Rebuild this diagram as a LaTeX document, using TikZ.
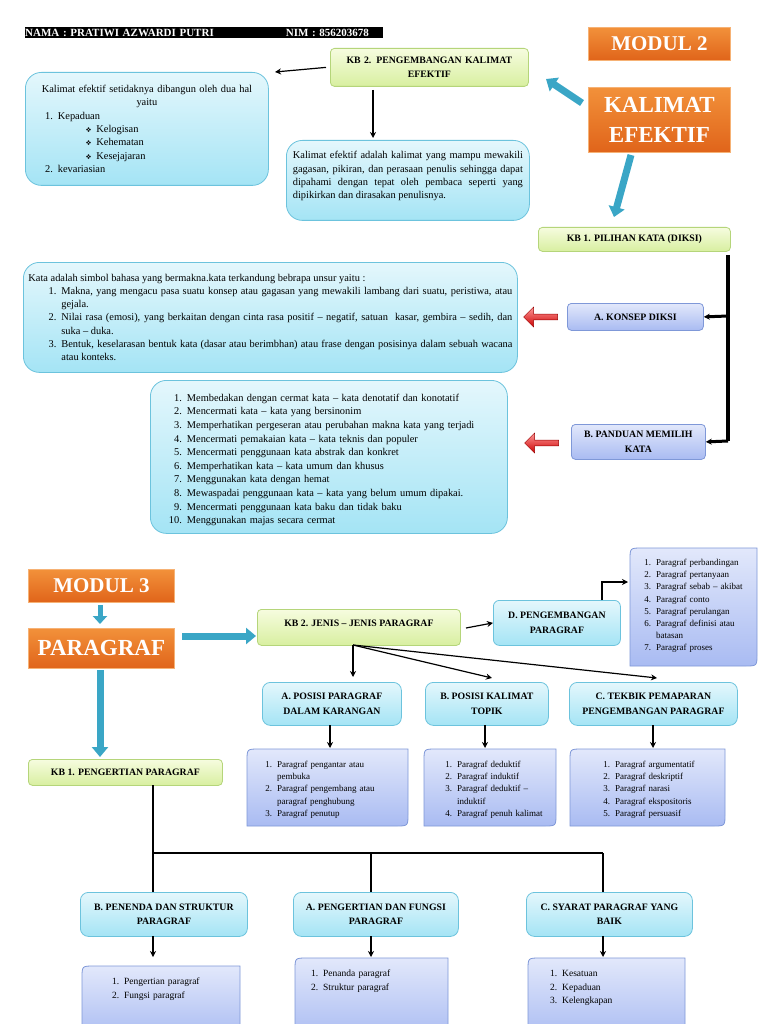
\documentclass[tikz,border=0pt]{standalone}
\usepackage{fontspec}
\setmainfont{Liberation Serif}
\usepackage{enumitem}
\usepackage{pifont}
\usetikzlibrary{shapes.arrows,arrows.meta}
\definecolor{cyT}{HTML}{E4F7FC}\definecolor{cyB}{HTML}{A4E4F5}\definecolor{cyD}{HTML}{6CC3DD}
\definecolor{grT}{HTML}{F6FCDF}\definecolor{grB}{HTML}{D8EFA0}\definecolor{grD}{HTML}{B5D57A}
\definecolor{laT}{HTML}{E2E8FB}\definecolor{laB}{HTML}{A9BBF2}\definecolor{laD}{HTML}{7F98D8}
\definecolor{orT}{HTML}{F2913A}\definecolor{orB}{HTML}{E0641A}\definecolor{blA}{HTML}{3AA6C6}
\newcommand{\fs}{\fontsize{10.4}{13.3}\selectfont\hyphenpenalty=10000\exhyphenpenalty=10000}
\newcommand{\hs}{\fontsize{9.8}{14.5}\selectfont\bfseries}
\newcommand{\ls}{\fontsize{9}{12.2}\selectfont}
\newlist{nl}{enumerate}{1}
\setlist[nl]{label=\arabic*.,leftmargin=18pt,itemsep=0pt,topsep=0pt,parsep=0pt,partopsep=0pt}
\begin{document}
\begin{tikzpicture}[x=1pt,y=-1pt,
 cy/.style={draw=cyD,rounded corners=8,top color=cyT,bottom color=cyB,line width=0.8pt,anchor=north west,align=center,font=\hs,inner sep=3pt},
 cyl/.style={cy,rounded corners=16,font=\fs,align=left},
 gr/.style={draw=grD,rounded corners=4,top color=grT,bottom color=grB,line width=0.8pt,anchor=north west,align=center,font=\hs},
 la/.style={draw=laD,rounded corners=4,top color=laT,bottom color=laB,line width=0.8pt,anchor=north west,align=center,font=\hs},
 orb/.style={draw=orT!70!white,top color=orT,bottom color=orB,anchor=north west,align=center,text=white,font=\bfseries,line width=0.8pt},
 ar/.style={-{Stealth[length=6pt,width=6pt]},line width=1.2pt},
 blue/.style={-{Triangle[length=10pt,width=16pt]},line width=7pt,draw=blA},
 red/.style={single arrow,draw=red!60!black,top color=red!40!white,bottom color=red!80!black,minimum height=34pt,minimum width=20pt,single arrow head extend=3pt,shape border rotate=180,inner sep=1pt},
 lt/.style={anchor=north west,font=\ls,align=left,inner sep=0pt}]
\useasboundingbox (0,0) rectangle (768,1024);
\fill[white] (0,0) rectangle (768,1024);
% header
\node[fill=black,text=white,font=\fontsize{11}{12}\selectfont\bfseries,anchor=north west,minimum width=358pt,minimum height=11pt,inner sep=0pt,align=left,text width=358pt] (hdr) at (25,27) {NAMA : PRATIWI AZWARDI PUTRI\hspace{72pt}NIM : 856203678};
% modul 2
\node[orb,minimum width=142pt,minimum height=33pt,font=\fontsize{21}{22}\selectfont\bfseries] (m2) at (588,27) {MODUL 2};
\node[orb,minimum width=142pt,minimum height=65pt,font=\fontsize{23}{30}\selectfont\bfseries] (ke) at (588,87) {KALIMAT\\EFEKTIF};
\node[gr,minimum width=198pt,minimum height=38pt,text width=190pt] (kb2) at (330,48) {KB 2. PENGEMBANGAN KALIMAT\\EFEKTIF};
\node[cyl,minimum width=243pt,minimum height=113pt,text width=230pt] (c1) at (25,72) {\centering Kalimat efektif setidaknya dibangun oleh dua hal\\ yaitu\par\raggedright
\begin{nl}[leftmargin=26pt]\item Kepaduan\par
\hspace*{28pt}{\scriptsize\ding{118}}\hspace{5pt}Kelogisan\par
\hspace*{28pt}{\scriptsize\ding{118}}\hspace{5pt}Kehematan\par
\hspace*{28pt}{\scriptsize\ding{118}}\hspace{5pt}Kesejajaran
\item kevariasian\end{nl}\vspace{8pt}};
\node[cyl,minimum width=243pt,minimum height=80pt,text width=230pt,align=justify] (c2) at (286,140) {Kalimat efektif adalah kalimat yang mampu mewakili gagasan, pikiran, dan perasaan penulis sehingga dapat dipahami dengan tepat oleh pembaca seperti yang dipikirkan dan dirasakan penulisnya.\vspace{8pt}};
\draw[ar] (kb2.west) ++(-4,0) -- (275,72);
\draw[ar] (373,90) -- (373,138);
\draw[blue] (582,103) -- (546,79);
\draw[blue] (631,155) -- (614,217);
\node[gr,minimum width=192pt,minimum height=24pt] (kb1) at (538,227) {KB 1. PILIHAN KATA (DIKSI)};
\node[la,minimum width=136pt,minimum height=27pt] (ka) at (567,303) {A. KONSEP DIKSI};
\node[la,minimum width=134pt,minimum height=35pt] (kbp) at (571,424) {B. PANDUAN MEMILIH\\KATA};
\draw[line width=3.5pt] (728,255) -- (728,441);
\draw[ar,line width=3pt] (728,316) -- (ka.east);
\draw[ar,line width=3pt] (728,441) -- (kbp.east);
\node[cyl,minimum width=494pt,minimum height=110pt,text width=484pt,align=justify] (c3) at (23,262) {Kata adalah simbol bahasa yang bermakna.kata terkandung bebrapa unsur yaitu :
\begin{nl}[leftmargin=33pt]
\item Makna, yang mengacu pasa suatu konsep atau gagasan yang mewakili lambang dari suatu, peristiwa, atau gejala.
\item Nilai rasa (emosi), yang berkaitan dengan cinta rasa positif -- negatif, satuan\ \ kasar, gembira -- sedih, dan suka~--~duka.
\item Bentuk, keselarasan bentuk kata (dasar atau berimbhan) atau frase dengan posisinya dalam sebuah wacana atau konteks.\end{nl}};
\node[cyl,minimum width=357pt,minimum height=153pt,text width=320pt,inner xsep=16pt] (c4) at (150,380) {\fontsize{10.4}{13.6}\selectfont\begin{nl}[leftmargin=18pt]
\item Membedakan dengan cermat kata -- kata denotatif dan konotatif
\item Mencermati kata -- kata yang bersinonim
\item Memperhatikan pergeseran atau perubahan makna kata yang terjadi
\item Mencermati pemakaian kata -- kata teknis dan populer
\item Mencermati penggunaan kata abstrak dan konkret
\item Memperhatikan kata -- kata umum dan khusus
\item Menggunakan kata dengan hemat
\item Mewaspadai penggunaan kata -- kata yang belum umum dipakai.
\item Mencermati penggunaan kata baku dan tidak baku
\item Menggunakan majas secara cermat\end{nl}};
\node[red] (r1) at (542,317) {};
\node[red] (r2) at (543,443) {};
% modul 3
\node[orb,minimum width=146pt,minimum height=33pt,font=\fontsize{21}{22}\selectfont\bfseries] (m3) at (28,569) {MODUL 3};
\node[orb,minimum width=146pt,minimum height=40pt,font=\fontsize{23}{24}\selectfont\bfseries] (pg) at (28,628) {PARAGRAF};
\draw[blue,line width=5pt,-{Triangle[length=8pt,width=14pt]}] (100,605) -- (100,624);
\draw[blue] (182,636) -- (256,636);
\draw[blue] (100,670) -- (100,757);
\node[gr,minimum width=194pt,minimum height=26pt] (pk1) at (28,759) {KB 1. PENGERTIAN PARAGRAF};
\node[gr,minimum width=203pt,minimum height=36pt] (jp) at (257,609) {\raisebox{8pt}{KB 2. JENIS -- JENIS PARAGRAF}};
\node[cy,minimum width=127pt,minimum height=45pt,rounded corners=6] (dp) at (493,600) {D. PENGEMBANGAN\\PARAGRAF};
\draw[ar] (466,628) -- (dp.west);
\draw[ar] (602,600) -- (602,582) -- (628,582);
\newcommand{\lbox}[4]{\draw[draw=laD,top color=laT,bottom color=laB,line width=0.8pt] (#1,#4) -- (#1,#2+12) .. controls (#1,#2) .. (#1+12,#2) -- (#3,#2) -- (#3,#4-12) .. controls (#3,#4) .. (#3-12,#4) -- cycle;}
\lbox{630}{548}{757}{666}
\node[lt,text width=112pt] (ld) at (640,553) {\begin{nl}[leftmargin=16pt]
\item Paragraf perbandingan \item Paragraf pertanyaan \item Paragraf sebab -- akibat \item Paragraf conto \item Paragraf perulangan \item Paragraf definisi atau batasan \item Paragraf proses\end{nl}};
\node[cy,minimum width=139pt,minimum height=43pt] (pa) at (262,682) {A. POSISI PARAGRAF\\DALAM KARANGAN};
\node[cy,minimum width=123pt,minimum height=43pt] (pb) at (425,682) {B. POSISI KALIMAT\\TOPIK};
\node[cy,minimum width=168pt,minimum height=43pt] (pc) at (569,682) {C. TEKBIK PEMAPARAN\\PENGEMBANGAN PARAGRAF};
\coordinate (jo) at (353,645);
\draw[ar] (jo) -- (353,677);
\draw[ar] (jo) -- (492,678);
\draw[ar] (jo) -- (657,678);
\draw[ar] (330,725) -- (330,748);
\draw[ar] (485,725) -- (485,748);
\draw[ar] (653,725) -- (653,748);
\lbox{247}{749}{408}{826}\lbox{424}{749}{556}{826}\lbox{570}{749}{725}{826}
\node[lt,text width=130pt] (la1) at (264,755) {\begin{nl}[leftmargin=13pt]\item Paragraf pengantar atau pembuka \item Paragraf pengembang atau paragraf penghubung \item Paragraf penutup\end{nl}};
\node[lt,text width=115pt] (la2) at (440,755) {\begin{nl}[leftmargin=17pt]\item Paragraf deduktif \item Paragraf induktif \item Paragraf deduktif -- induktif \item Paragraf penuh kalimat\end{nl}};
\node[lt,text width=140pt] (la3) at (598,755) {\begin{nl}[leftmargin=17pt]\item Paragraf argumentatif \item Paragraf deskriptif \item Paragraf narasi \item Paragraf ekspositoris \item Paragraf persuasif\end{nl}};
% bottom tree
\draw[line width=1.2pt] (153,785) -- (153,853) -- (603,853);
\draw[line width=1.2pt] (153,853) -- (153,892);
\draw[line width=1.2pt] (371,853) -- (371,892);
\draw[line width=1.2pt] (603,853) -- (603,892);
\node[cy,minimum width=167pt,minimum height=44pt] (bb) at (80,892) {B. PENENDA DAN STRUKTUR\\PARAGRAF};
\node[cy,minimum width=165pt,minimum height=44pt] (ba) at (293,892) {A. PENGERTIAN DAN FUNGSI\\PARAGRAF};
\node[cy,minimum width=166pt,minimum height=44pt] (bc) at (526,892) {C. SYARAT PARAGRAF YANG\\BAIK};
\draw[ar] (153,936) -- (153,957);
\draw[ar] (371,936) -- (371,957);
\draw[ar] (603,936) -- (603,957);
\lbox{82}{966}{240}{1040}\lbox{295}{958}{448}{1040}\lbox{528}{958}{685}{1040}
\node[lt,text width=140pt,font=\fontsize{9.5}{13.5}\selectfont] (lb1) at (108,971) {\begin{nl}[leftmargin=16pt]\item Pengertian paragraf \item Fungsi paragraf\end{nl}};
\node[lt,text width=140pt,font=\fontsize{9.5}{13.5}\selectfont] (lb2) at (310,963) {\begin{nl}[leftmargin=13pt]\item Penanda paragraf \item Struktur paragraf\end{nl}};
\node[lt,text width=140pt,font=\fontsize{9.5}{13.5}\selectfont] (lb3) at (545,963) {\begin{nl}[leftmargin=17pt]\item Kesatuan \item Kepaduan \item Kelengkapan\end{nl}};
\end{tikzpicture}
\end{document}
